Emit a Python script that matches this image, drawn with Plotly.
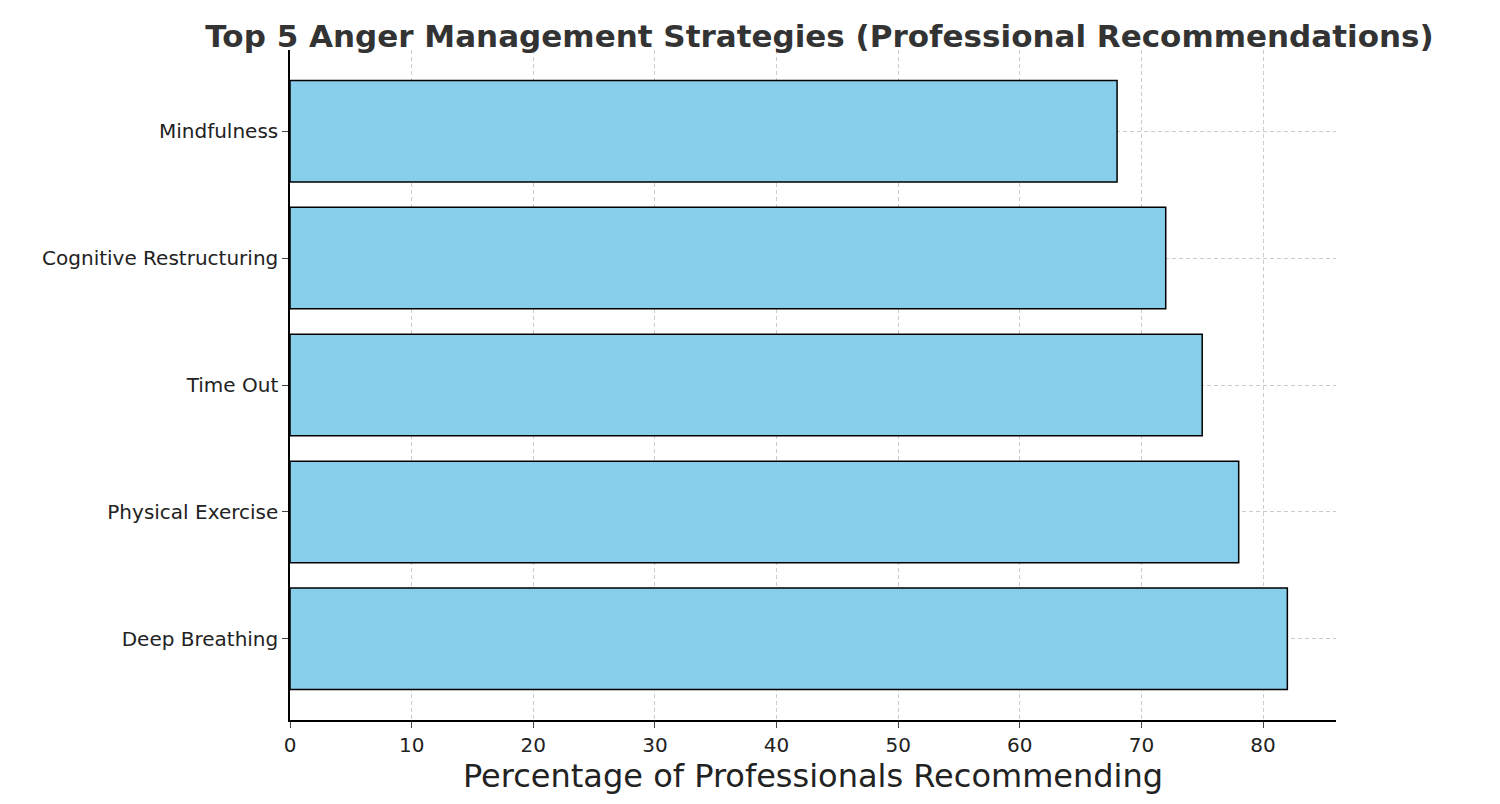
import plotly.graph_objects as go

strategies = ["Deep Breathing", "Physical Exercise", "Time Out", "Cognitive Restructuring", "Mindfulness"]
percentages = [82, 78, 75, 72, 68]
x_ticks = [0, 10, 20, 30, 40, 50, 60, 70, 80]

fig = go.Figure(go.Bar(
    x=percentages, y=strategies, orientation="h", width=0.8,
    marker=dict(color="skyblue", line=dict(color="black", width=1.5)),
))
fig.update_layout(
    width=1500, height=804, plot_bgcolor="white", paper_bgcolor="white",
    margin=dict(l=282, r=172, t=42, b=92),
    font=dict(family="DejaVu Sans", color="#222"),
    title=dict(text="<b>Top 5 Anger Management Strategies (Professional Recommendations)</b>",
               x=0.541, xanchor="center", y=0.965, yanchor="middle",
               font=dict(size=31, color="#333")),
    showlegend=False,
)
fig.update_xaxes(range=[0, 86], tickvals=x_ticks, tickfont=dict(size=20),
                 title=dict(text="Percentage of Professionals Recommending", font=dict(size=32), standoff=8),
                 showgrid=True, gridcolor="#cccccc", griddash="4px,3px", gridwidth=1,
                 showline=True, linecolor="black", linewidth=1.5, ticks="outside",
                 ticklen=6, zeroline=False)
fig.update_yaxes(range=[-0.64, 4.64], tickfont=dict(size=20),
                 showgrid=True, gridcolor="#cccccc", griddash="4px,3px", gridwidth=1,
                 showline=True, linecolor="black", linewidth=1.5, ticks="outside",
                 ticklen=6)
fig.write_html("out.html")
